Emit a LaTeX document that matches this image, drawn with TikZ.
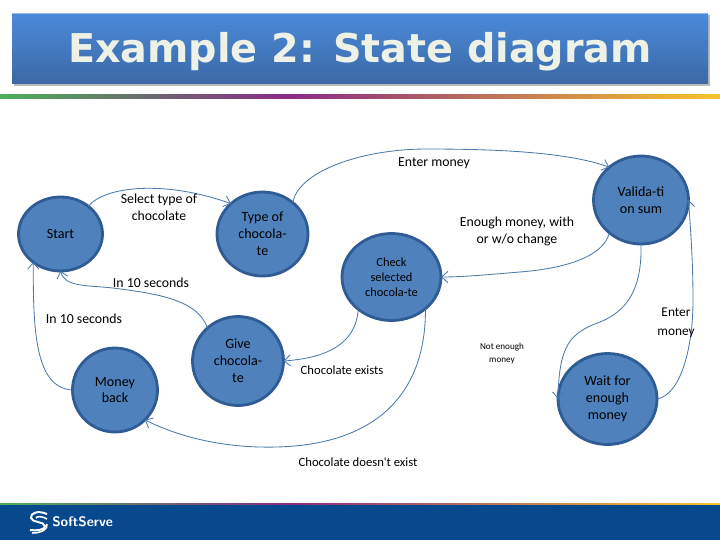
\documentclass[tikz,border=0pt]{standalone}
\usepackage{fontspec}
\setmainfont{Carlito}
\newfontfamily\titlefont{DejaVu Sans}
\usetikzlibrary{shapes.geometric, arrows.meta}

\definecolor{statefill}{HTML}{4F81BD}
\definecolor{stateline}{HTML}{2F5C94}
\definecolor{edgeline}{HTML}{4A7AAB}
\definecolor{bannertop}{HTML}{4A8BDA}
\definecolor{bannermid}{HTML}{4580CA}
\definecolor{bannerlow}{HTML}{3C68A6}

\tikzset{
  state/.style 2 args={ellipse, draw=stateline, fill=statefill, line width=2pt,
    inner sep=0pt, outer sep=0pt, align=center, font=\fontsize{10}{12}\selectfont,
    minimum width=#1*0.025cm, minimum height=#2*0.025cm},
  edge/.style={draw=edgeline, line width=0.6pt, -{Straight Barb[length=4.5pt,width=8pt]}},
  label/.style={align=center, inner sep=0pt, font=\fontsize{9}{12}\selectfont},
  widelabel/.style={label, font=\fontsize{9.8}{12}\selectfont}
}

\begin{document}
\begin{tikzpicture}[x=0.025cm, y=-0.025cm]
      \useasboundingbox (0, 0) rectangle (720, 540);

      % header and footer
      \fill[black!45, opacity=0.6] (14, 15) rectangle (710, 86);
      \shade[top color=bannertop, middle color=bannermid, bottom color=bannerlow] (12, 13) rectangle (708, 83);
      \fill[bannertop!60!white] (12, 12.5) rectangle (708, 14);
      \node (title) at (360, 52) {\titlefont\bfseries\fontsize{28.2}{30}\selectfont\color[HTML]{EEF2E6} Example 2: State diagram};
      \shade[left color={rgb,255:red,76;green,175;blue,90}, right color={rgb,255:red,139;green,42;blue,133}] (0, 94) rectangle (288, 98);
      \shade[left color={rgb,255:red,139;green,42;blue,133}, right color={rgb,255:red,248;green,196;blue,40}] (288, 94) rectangle (720, 98);

      \shade[left color={rgb,255:red,76;green,175;blue,90}, right color={rgb,255:red,139;green,42;blue,133}] (0, 503) rectangle (288, 505);
      \shade[left color={rgb,255:red,139;green,42;blue,133}, right color={rgb,255:red,248;green,196;blue,40}] (288, 503) rectangle (720, 505);
      \fill[color={rgb,255:red,8;green,72;blue,140}] (0, 505) rectangle (720, 540);
      \draw[white, line width=1.4pt] (47, 514) .. controls (38, 510) and (30, 513) .. (31, 518) .. controls (32, 523) and (44, 521) .. (45, 526) .. controls (45, 530) and (36, 531) .. (30, 530);
      \draw[white, line width=1.1pt] (47, 519) .. controls (42, 516) and (37, 516) .. (36, 518);
      \draw[white, line width=1.1pt] (47, 524) .. controls (48, 529) and (42, 533) .. (32, 533);
      \node[text=white, inner sep=0pt, anchor=west] (logo) at (52, 522) {\sffamily\bfseries\fontsize{9.8}{10}\selectfont SoftServe};

      % states
      \node[state={84}{74}] (start) at (60.5, 234) {Start};
      \node[state={91}{84}] (type) at (262.5, 234) {Type of\\chocola-\\te};
      \node[state={91}{89}] (give) at (238, 361) {Give\\chocola-\\te};
      \node[state={85}{84}] (back) at (115, 390) {Money\\back};
      \node[state={99}{87}, font=\fontsize{8.8}{10.7}\selectfont] (check) at (391.5, 277) {Check\\selected\\chocola-te};
      \node[state={95}{88}] (valid) at (641, 200) {Valida-ti\\on sum};
      \node[state={99}{91}] (wait) at (607.5, 399) {Wait for\\enough\\money};

      % transitions
      \draw[edge] (start.45) .. controls (105, 186) and (165, 180) .. (type.136);
      \draw[edge] (type.46) .. controls (298, 172) and (360, 149) .. (427, 149) .. controls (505, 149) and (570, 153) .. (valid.134);
      \draw[edge] (valid.226) .. controls (604, 255) and (570, 268) .. (520, 272) .. controls (495, 274) and (465, 277) .. (check.0);
      \draw[edge] (valid.270) .. controls (642, 285) and (630, 310) .. (600, 322) .. controls (570, 333) and (559, 345) .. (wait.180);
      \draw[edge] (wait.0) .. controls (680, 395) and (693, 350) .. (693, 300) .. controls (693, 265) and (691, 235) .. (valid.0);
      \draw[edge] (check.224) .. controls (356, 345) and (325, 358) .. (give.0);
      \draw[edge] (check.317) .. controls (426, 390) and (380, 450) .. (260, 447) .. controls (215, 446) and (175, 435) .. (back.315);
      \draw[edge] (give.133) .. controls (198, 298) and (150, 293) .. (113, 288) .. controls (85, 285) and (65, 287) .. (start.270);
      \draw[edge] (back.180) .. controls (35, 388) and (33, 330) .. (start.226);

      % labels
      \node[widelabel] (selectlabel) at (159, 207) {Select type of\\chocolate};
      \node[widelabel] (moneylabel) at (434, 163) {Enter money};
      \node[widelabel] (enoughlabel) at (517, 231.5) {Enough money, with\\or w/o change};
      \node[widelabel] (tenlabel) at (151, 283) {In 10 seconds};
      \node[widelabel] (backlabel) at (84, 319) {In 10 seconds};
      \node[label] (existslabel) at (342, 370) {Chocolate exists};
      \node[label, font=\fontsize{6.5}{9.5}\selectfont] (notlabel) at (502, 353.5) {Not enough\\money};
      \node[label] (nolabel) at (358, 462) {Chocolate doesn\textquotesingle t exist};
      \node[label, font=\fontsize{9.5}{13.5}\selectfont] (waitlabel) at (676, 322.5) {Enter\\money};

\end{tikzpicture}
\end{document}
